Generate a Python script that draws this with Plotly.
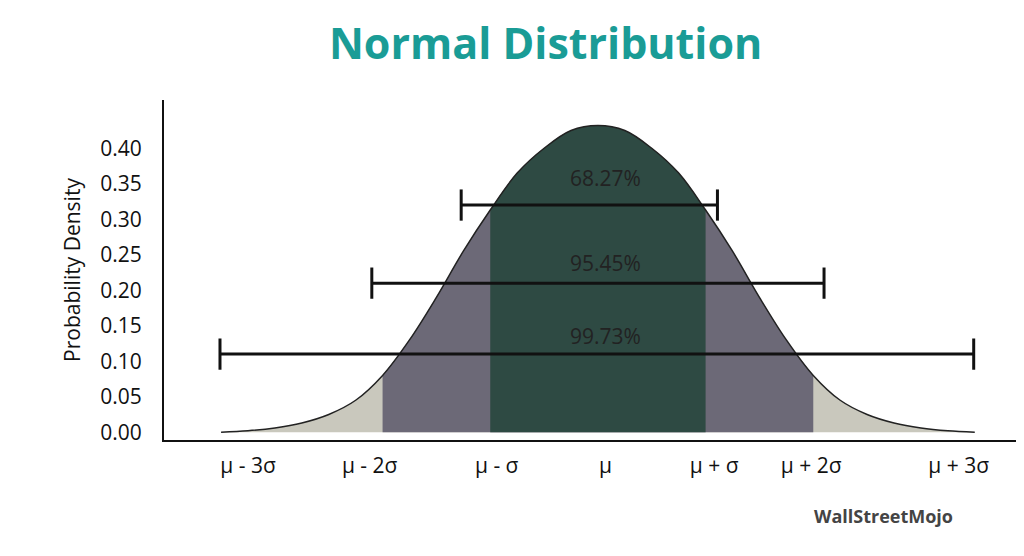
import plotly.graph_objects as go

# curve (x in sigma units, y = density)
xs = [-3.5,-3.25,-3,-2.75,-2.5,-2.25,-2,-1.75,-1.5,-1.25,-1,-0.75,-0.5,-0.25,0,
      0.25,0.5,0.75,1,1.25,1.5,1.75,2,2.25,2.5,2.75,3,3.25,3.5]
ys = [0.000,0.002,0.006,0.013,0.025,0.045,0.080,0.130,0.190,0.255,0.313,0.365,0.400,0.425,0.432,
      0.425,0.400,0.365,0.313,0.255,0.190,0.130,0.080,0.045,0.025,0.013,0.006,0.002,0.000]

tick_vals = [-3.25,-2.12,-0.94,0.07,1.08,1.98,3.35]
tick_text = ["μ - 3σ","μ - 2σ","μ - σ","μ","μ + σ","μ + 2σ","μ + 3σ"]

bar_labels = ["68.27%","95.45%","99.73%"]
bar_left = [-1.27,-2.10,-3.51]
bar_right = [1.11,2.10,3.49]
bar_y = [0.32,0.21,0.11]
label_y = [0.358,0.238,0.135]

fig = go.Figure()
def sub(lo, hi):
    px = [x for x in xs if lo <= x <= hi]
    py = [y for x, y in zip(xs, ys) if lo <= x <= hi]
    return px, py

for (lo, hi), col in [((-9, 9), "#c9c8bd"), ((-2, 2), "#6c6977"), ((-1, 1), "#2e4a43")]:
    px, py = sub(lo, hi)
    fig.add_trace(go.Scatter(x=px, y=py, fill="tozeroy", fillcolor=col, mode="lines",
                             line=dict(color=col, width=0, shape="spline"), hoverinfo="skip"))
fig.add_trace(go.Scatter(x=xs, y=ys, mode="lines", line=dict(color="#222", width=1.5, shape="spline")))

cap = 0.022
for l, r, y, ly, t in zip(bar_left, bar_right, bar_y, label_y, bar_labels):
    fig.add_trace(go.Scatter(x=[l, r], y=[y, y], mode="lines", line=dict(color="#111", width=3)))
    for xx in (l, r):
        fig.add_trace(go.Scatter(x=[xx, xx], y=[y - cap, y + cap], mode="lines", line=dict(color="#111", width=3)))
    fig.add_annotation(x=0.07, y=ly, text=t, showarrow=False, font=dict(size=21, color="#222", family="Open Sans"))

fig.update_layout(
    width=1024, height=556, showlegend=False, plot_bgcolor="white", paper_bgcolor="white",
    margin=dict(l=156, r=12, t=92, b=124),
    title=dict(text="<b>Normal Distribution</b>", x=0.525, xanchor="center", y=0.935, yanchor="middle",
               font=dict(size=43, color="#1a9c96", family="Open Sans")),
    xaxis=dict(range=[-4.03, 3.92], tickvals=tick_vals, ticktext=tick_text, showgrid=False, zeroline=False,
               showline=True, linecolor="#111", linewidth=2, ticks="", ticklabelstandoff=6,
               tickfont=dict(size=21, color="#111", family="Open Sans")),
    yaxis=dict(range=[-0.011, 0.468], tickvals=[0,0.05,0.1,0.15,0.2,0.25,0.3,0.35,0.4], tickformat=".2f",
               showgrid=False, zeroline=False, showline=True, linecolor="#111", linewidth=2, ticks="",
               ticklabelstandoff=16,
               tickfont=dict(size=21, color="#111", family="Open Sans"),
               title=dict(text="Probability Density", font=dict(size=21, color="#111", family="Open Sans"), standoff=14)),
)
fig.add_annotation(x=0.84, y=-0.265, xref="paper", yref="paper", xanchor="center", text="<b>WallStreetMojo</b>",
                   showarrow=False, font=dict(size=18, color="#444", family="Open Sans"))
fig.write_html("out.html")
